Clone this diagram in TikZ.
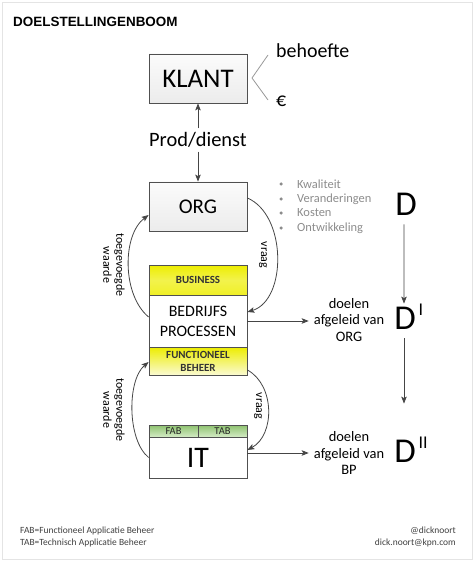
\documentclass[tikz,border=0pt]{standalone}
\usepackage{fontspec}
\setmainfont{Carlito}
\newfontfamily\titlefont{Liberation Sans}
\usetikzlibrary{arrows.meta}
\definecolor{edge}{HTML}{505050}
\definecolor{arrc}{HTML}{454545}
\definecolor{bulgray}{HTML}{8C8C8C}
\definecolor{ylw}{HTML}{EDED00}
\definecolor{ylwpale}{HTML}{FAFAD2}
\definecolor{grntop}{HTML}{8DC26F}
\definecolor{grnbot}{HTML}{D4EBC5}
\definecolor{frame}{HTML}{E4E4E4}
\begin{document}
\begin{tikzpicture}[x=1bp,y=-1bp,
  box/.style={draw=edge, line width=0.8bp, minimum width=98bp, inner sep=0pt, align=center},
  graybox/.style={box, top color=gray!3, bottom color=gray!15, minimum height=49bp,
    font=\fontsize{21}{25}\selectfont},
  arr/.style={draw=arrc, line width=0.8bp, -{Stealth[length=7bp,width=5.5bp,inset=1.5bp]}},
  curve/.style={arr},
  fsz/.style={font=\fontsize{#1}{#1}\selectfont},
  dletter/.style={font=\fontsize{35}{35}\selectfont, inner sep=3bp},
  doel/.style={align=center, font=\fontsize{14.5}{17}\selectfont, inner sep=2bp},
  sidelab/.style={align=center, rotate=-90, font=\fontsize{12}{13}\selectfont, inner sep=1bp},
  bullet/.style={anchor=west, inner sep=0pt, text=bulgray, font=\fontsize{12.5}{14}\selectfont},
  foot/.style={inner sep=0pt, text=black!75, font=\fontsize{9.5}{12}\selectfont}
]
\useasboundingbox (0,0) rectangle (474,561);
\draw[frame, line width=0.8bp] (2,2) rectangle (472,559);

% title
\node[anchor=west, inner sep=0pt, font=\titlefont\bfseries\fontsize{13.5}{16}\selectfont] (title) at (13,22) {DOELSTELLINGENBOOM};

% KLANT
\node[graybox, font=\fontsize{27}{30}\selectfont] (klant) at (198,78.5) {KLANT};
\coordinate (bt) at (268,55);
\coordinate (bv) at (252,78);
\coordinate (bb) at (268,100);
\draw[gray!80, line width=0.8bp] (bt) -- (bv) -- (bb);
\node[anchor=west, inner sep=0pt, fsz=20] (behoefte) at (276,51) {behoefte};
\node[anchor=west, inner sep=0pt, fsz=20] (euro) at (276,101) {€};

% Prod/dienst
\node[inner sep=4bp, fsz=20.5] (prod) at (198,140) {Prod/dienst};

% ORG
\node[graybox] (org) at (198,206.5) {ORG};
\draw[arr] (prod.north) -- (klant.south);
\draw[arr] (prod.south) -- (org.north);

% bullets
\foreach \t/\yy [count=\i] in {Kwaliteit/184, Veranderingen/199, Kosten/213, Ontwikkeling/228}{
  \node[circle, fill=bulgray, inner sep=0pt, minimum size=3.5bp] (dot\i) at (281,\yy) {};
  \node[bullet] (b\i) at (297,\yy) {\t};
}

% business process stack
\node[box, minimum height=30bp, top color=ylw, bottom color=ylw!85!white, middle color=ylw!70!white,
  font=\bfseries\fontsize{11}{13}\selectfont, text=black!80] (bus) at (198,280) {BUSINESS};
\node[box, minimum height=52bp, fill=white, font=\fontsize{16}{20}\selectfont] (bp) at (198,321) {BEDRIJFS\\PROCESSEN};
\node[box, minimum height=28bp, top color=ylw, bottom color=ylwpale,
  font=\bfseries\fontsize{11}{13}\selectfont, text=black!80] (fb) at (198,361) {FUNCTIONEEL\\BEHEER};

% IT
\node[box, minimum width=49bp, minimum height=12bp, top color=grntop, bottom color=grnbot,
  font=\fontsize{10.5}{11}\selectfont, text=black!85] (fab) at (173.5,431) {FAB};
\node[box, minimum width=49bp, minimum height=12bp, top color=grntop, bottom color=grnbot,
  font=\fontsize{10.5}{11}\selectfont, text=black!85] (tab) at (222.5,431) {TAB};
\node[box, minimum height=41bp, fill=white, font=\fontsize{30}{30}\selectfont] (it) at (198,457.5) {IT};

% D column
\node[dletter] (d0) at (406,204) {D};
\node[dletter] (d1) at (405,318) {D\rlap{\smash{\raisebox{0.38em}{\fontsize{18}{18}\selectfont\,I}}}};
\node[dletter] (d2) at (405,451) {D\rlap{\smash{\raisebox{0.38em}{\fontsize{18}{18}\selectfont\,II}}}};
\draw[arr, shorten <=6bp] ([xshift=-2bp]d0.south) -- ([xshift=-1bp]d1.north);
\draw[arr, shorten <=6bp, shorten >=33bp] ([xshift=-1bp]d1.south) -- ([xshift=-1bp]d2.north);

% doelen
\node[doel] (doel1) at (349,320) {doelen\\afgeleid van\\ORG};
\node[doel] (doel2) at (349,453) {doelen\\afgeleid van\\BP};
\draw[arr, shorten >=3bp] (bp.east) -- (bp.east -| doel1.west);
\draw[arr, shorten >=3bp] (doel2.west -| it.east) -- (doel2.west);

% curves upper
\draw[curve] ([yshift=4bp]bp.west) .. controls (122,295) and (122,235) .. ([yshift=-8.5bp]org.west);
\draw[curve] ([yshift=8.5bp]org.east) .. controls (287,215) and (287,300) .. ([yshift=9bp]bp.east);
\node[sidelab] (tw1) at (114,265) {toegevoegde\\waarde};
\node[sidelab] (vr1) at (263,255) {vraag};

% curves lower
\draw[curve] (it.west) .. controls (127,440) and (127,380) .. ([yshift=-1bp]fb.west);
\draw[curve] ([yshift=-9bp]fb.east) .. controls (275,385) and (275,435) .. ([yshift=7.5bp]it.east);
\node[sidelab] (tw2) at (114,410) {toegevoegde\\waarde};
\node[sidelab] (vr2) at (258,406) {vraag};

% footer
\node[foot, anchor=west] (f1) at (20,531) {FAB=Functioneel Applicatie Beheer};
\node[foot, anchor=west] (f2) at (20,543) {TAB=Technisch Applicatie Beheer};
\node[foot, anchor=east] (f3) at (456,531) {@dicknoort};
\node[foot, anchor=east] (f4) at (456,543) {dick.noort@kpn.com};
\end{tikzpicture}
\end{document}
